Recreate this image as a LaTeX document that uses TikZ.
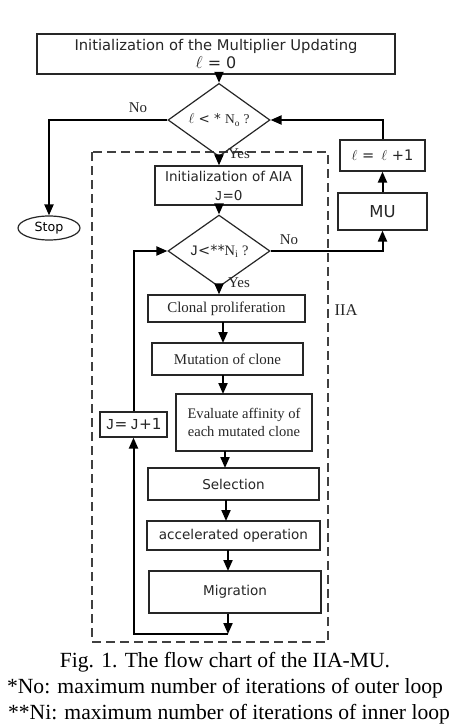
\documentclass[tikz,border=0pt]{standalone}
\usepackage{fontspec}
\setmainfont{Liberation Serif}
\setsansfont{DejaVu Sans}
\setmonofont{Liberation Mono}
\usetikzlibrary{shapes.geometric,arrows.meta}
\tikzset{
  box/.style={draw=black!85, line width=1.2bp, inner sep=0pt, align=center, text=black!85,
    font=\sffamily\fontsize{13.6}{16}\selectfont},
  sbox/.style={box, font=\fontsize{15}{17}\selectfont},
  dia/.style={draw=black!85, line width=1.2bp, diamond, inner sep=0pt, minimum width=102bp,
    minimum height=46bp, text=black!85},
  lbl/.style={font=\fontsize{15}{17}\selectfont, text=black!85, inner sep=0pt},
  ln/.style={line width=2bp, black},
  arr/.style={ln, -{Triangle[length=11bp,width=9bp]}},
  captext/.style={font=\fontsize{21.7}{24}\selectfont, inner sep=0pt}
}
\begin{document}
\begin{tikzpicture}[x=1bp,y=-1bp]
\useasboundingbox (0,0) rectangle (450,724);
\fill[white] (0,0) rectangle (450,724);

% dashed region
\draw[line width=1.2bp, black!75, dash pattern=on 9bp off 5bp] (92,152) rectangle (328,642);
\node[lbl, font=\fontsize{16.5}{18}\selectfont] (iia) at (346,310) {IIA};

\node[box, minimum width=358bp, minimum height=40bp, font=\sffamily\fontsize{14.8}{18}\selectfont] (top) at (216,54)
  {Initialization of the Multiplier Updating\\[0pt]\fontsize{16}{18}\selectfont$\ell$ = 0};
\node[dia] (d1) at (219,120) {\sffamily\fontsize{13.5}{15}\selectfont $\ell$ < * \rmfamily N\textsubscript{o} ?};
\node[draw=black!85, line width=1.2bp, ellipse, minimum width=62bp, minimum height=24bp,
  inner sep=0pt, font=\sffamily\fontsize{12.7}{14}\selectfont] (stop) at (49,228) {Stop};
\node[box, minimum width=147bp, minimum height=39bp, font=\sffamily\fontsize{13.6}{19}\selectfont] (aia) at (228.5,185.5)
  {Initialization of AIA\\\texttt{J}=0};
\node[dia] (d2) at (219,251) {\sffamily\fontsize{14.5}{16}\selectfont \texttt{J}<**\rmfamily N\textsubscript{i} ?};
\node[box, minimum width=89bp, minimum height=37bp, font=\sffamily\fontsize{16.5}{18}\selectfont] (mu) at (382.5,211.5) {MU};
\node[box, minimum width=85bp, minimum height=31bp, font=\sffamily\fontsize{14.6}{16}\selectfont] (inc) at (382.5,155.5) {$\ell$ = \,$\ell$ +1};
\node[sbox, minimum width=157bp, minimum height=27bp] (clon) at (226.5,308.5) {Clonal proliferation};
\node[sbox, minimum width=151bp, minimum height=32bp] (mut) at (227.5,359) {Mutation of clone};
\node[sbox, minimum width=136bp, minimum height=57bp, font=\fontsize{14.6}{18}\selectfont] (eval) at (244,422.5) {Evaluate affinity of\\each mutated clone};
\node[box, minimum width=171bp, minimum height=32bp] (sel) at (233.5,484) {Selection};
\node[box, minimum width=173bp, minimum height=29bp] (acc) at (233.5,535.5) {accelerated operation};
\node[box, minimum width=172bp, minimum height=42bp] (mig) at (235,592) {Migration};
\node[box, minimum width=67bp, minimum height=25bp, font=\sffamily\fontsize{15.3}{17}\selectfont] (jinc) at (133.5,424.5) {\texttt{J}=\,\texttt{J}+1};
\coordinate (loopend) at (228,634);

% labels
\node[lbl] (no1) at (138,108) {No};
\node[lbl] (yes1) at (239,154) {Yes};
\node[lbl] (no2) at (289,240) {No};
\node[lbl] (yes2) at (239,283) {Yes};

% connectors
\draw[arr] (top.south -| d1.north) -- (d1.north);
\draw[arr] (d1.west) -| (stop.north);
\draw[arr] (d1.south) -- (d1.south |- aia.north);
\draw[arr] (d2.north |- aia.south) -- (d2.north);
\draw[arr] (d2.east) -| (mu.south);
\draw[arr] (mu.north) -- (inc.south);
\draw[arr] (inc.north) |- (d1.east);
\draw[arr] (d2.south) -- (d2.south |- clon.north);
\draw[arr] (223,322) -- (223,343);
\draw[arr] (223,375) -- (223,394);
\draw[arr] (225,451) -- (225,468);
\draw[arr] (226,500) -- (226,521);
\draw[arr] (228,550) -- (228,571);
\draw[arr] (loopend |- mig.south) -- (loopend);
\draw[arr] (loopend) -| (jinc.south);
\draw[arr] (jinc.north) |- (d2.west);

% caption
\node[captext] (c1) at (225,662) {Fig. 1. The flow chart of the IIA-MU.};
\node[captext] (c2) at (225,688) {*No: maximum number of iterations of outer loop};
\node[captext] (c3) at (229,714) {**Ni: maximum number of iterations of inner loop};
\end{tikzpicture}
\end{document}
